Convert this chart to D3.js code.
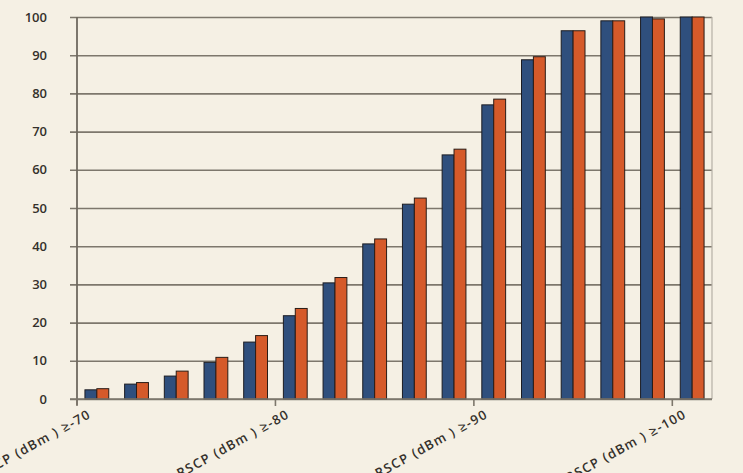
<!DOCTYPE html>
<html>
<head>
<meta charset="utf-8">
<script src="https://cdn.jsdelivr.net/npm/d3@7"></script>
<style>
  html, body { margin: 0; padding: 0; background: #f5f0e4; }
  svg { display: block; }
</style>
</head>
<body>
<div id="chart"></div>
<script>
// RSCP thresholds, one group per 2 dBm step
var thresholds = [-70, -72, -74, -76, -78, -80, -82, -84, -86, -88, -90, -92, -94, -96, -98, -100];
var seriesA = [2.4, 3.9, 6.0, 9.6, 14.9, 21.8, 30.4, 40.6, 51.0, 63.9, 77.0, 88.8, 96.4, 99.0, 100, 100];
var seriesB = [2.7, 4.3, 7.3, 10.9, 16.6, 23.7, 31.8, 41.9, 52.6, 65.4, 78.5, 89.6, 96.4, 99.0, 99.5, 100];
var yTicks = [0, 10, 20, 30, 40, 50, 60, 70, 80, 90, 100];
var labelThresholds = [-70, -80, -90, -100];

var width = 743, height = 473;
var margin = {left: 77, right: 31, top: 17, bottom: 74};

var svg = d3.select("#chart").append("svg")
  .attr("width", width)
  .attr("height", height);

var x = d3.scaleBand()
  .domain(thresholds)
  .range([margin.left, width - margin.right])
  .paddingInner(0.4)
  .paddingOuter(0.2);

var xSub = d3.scaleBand()
  .domain(["a", "b"])
  .range([0, x.bandwidth()]);

var y = d3.scaleLinear()
  .domain([0, 100])
  .range([height - margin.bottom, margin.top]);

// gridlines + y labels
var yAxis = svg.append("g")
  .attr("transform", "translate(" + margin.left + ",0)")
  .call(d3.axisLeft(y).tickValues(yTicks).tickSize(-(width - margin.left - margin.right)).tickPadding(30));
yAxis.select(".domain").remove();
yAxis.selectAll(".tick line")
  .attr("x1", -7)
  .style("stroke", "#7d776c")
  .style("stroke-width", 1.6);
yAxis.selectAll(".tick text")
  .style("font-family", "'Open Sans', sans-serif")
  .style("font-weight", 600)
  .style("font-size", "13px")
  .style("fill", "#34302b");

// right border
svg.append("line")
  .attr("x1", width - margin.right).attr("x2", width - margin.right)
  .attr("y1", y(100)).attr("y2", y(0))
  .style("stroke", "#b5b0a6")
  .style("stroke-width", 1.2);

// bars
var groups = svg.selectAll(".grp")
  .data(thresholds)
  .enter()
  .append("g")
    .attr("class", "grp")
    .attr("transform", function(d) { return "translate(" + x(d) + ",0)"; });

groups.append("rect")
  .attr("x", xSub("a"))
  .attr("width", xSub.bandwidth())
  .attr("y", function(d, i) { return y(seriesA[i]); })
  .attr("height", function(d, i) { return y(0) - y(seriesA[i]); })
  .style("fill", "#2f4f7d")
  .style("stroke", "#1c1c22")
  .style("stroke-width", 1);

groups.append("rect")
  .attr("x", xSub("b"))
  .attr("width", xSub.bandwidth())
  .attr("y", function(d, i) { return y(seriesB[i]); })
  .attr("height", function(d, i) { return y(0) - y(seriesB[i]); })
  .style("fill", "#d55a2a")
  .style("stroke", "#2a1c16")
  .style("stroke-width", 1);

// left axis line
svg.append("line")
  .attr("x1", margin.left).attr("x2", margin.left)
  .attr("y1", y(100)).attr("y2", y(0) + 6)
  .style("stroke", "#6f695f")
  .style("stroke-width", 1.8);

// x axis baseline
svg.append("line")
  .attr("x1", margin.left - 7).attr("x2", width - margin.right)
  .attr("y1", y(0)).attr("y2", y(0))
  .style("stroke", "#7d776c")
  .style("stroke-width", 1.6);

// x ticks and rotated labels at each 10 dBm step
var tickX = function(d) { return x(d) - (x.step() - x.bandwidth()) / 2; };

svg.selectAll(".xtick")
  .data(labelThresholds)
  .enter()
  .append("line")
    .attr("class", "xtick")
    .attr("x1", tickX).attr("x2", tickX)
    .attr("y1", y(0)).attr("y2", y(0) + 7)
    .style("stroke", "#7d776c")
    .style("stroke-width", 1.6);

svg.selectAll(".xlabel")
  .data(labelThresholds)
  .enter()
  .append("text")
    .attr("class", "xlabel")
    .attr("transform", function(d) { return "translate(" + (tickX(d) + 15) + "," + (y(0) + 18) + ") rotate(-29)"; })
    .attr("text-anchor", "end")
    .style("font-family", "'Open Sans', sans-serif")
    .style("font-weight", 600)
    .style("font-size", "13px")
    .style("letter-spacing", "1.3px")
    .style("fill", "#34302b")
    .text(function(d) { return "RSCP (dBm ) \u2265" + d; });
</script>
</body>
</html>
